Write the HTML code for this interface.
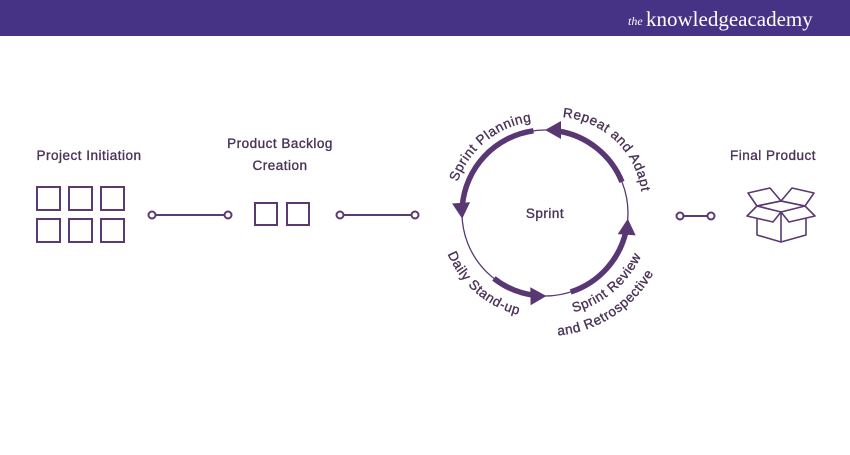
<!DOCTYPE html>
<html><head><style>
body{margin:0;width:850px;height:450px;background:#fff;overflow:hidden;font-family:"Liberation Sans",sans-serif}
</style></head><body>
<svg width="850" height="450" viewBox="0 0 850 450" xmlns="http://www.w3.org/2000/svg" font-family="Liberation Sans, sans-serif">
<rect x="0" y="0" width="850" height="36" fill="#463385"/>
<text x="628" y="25" fill="#fff" font-family="Liberation Serif, serif" font-size="12" font-style="italic">the</text>
<text x="646" y="26" fill="#fff" font-family="Liberation Serif, serif" font-size="21">knowledgeacademy</text>
<g fill="#4a3356" stroke="#4a3356" stroke-width="0.35" font-size="13.5" text-anchor="middle" letter-spacing="0.5">
<text x="89" y="160">Project Initiation</text>
<text x="280" y="148">Product Backlog</text>
<text x="280" y="170">Creation</text>
<text x="773" y="160">Final Product</text>
<text x="545" y="218">Sprint</text>
</g>
<g fill="none" stroke="#5a3a70" stroke-width="2">
<rect x="37" y="187" width="23" height="23"/><rect x="69" y="187" width="23" height="23"/><rect x="101" y="187" width="23" height="23"/>
<rect x="37" y="219" width="23" height="23"/><rect x="69" y="219" width="23" height="23"/><rect x="101" y="219" width="23" height="23"/>
<rect x="255" y="203" width="22" height="22"/><rect x="287" y="203" width="22" height="22"/>
<line x1="156" y1="215" x2="224" y2="215"/><circle cx="152" cy="215" r="3.5"/><circle cx="228" cy="215" r="3.5"/>
<line x1="344" y1="215" x2="411" y2="215"/><circle cx="340" cy="215" r="3.5"/><circle cx="415" cy="215" r="3.5"/>
<line x1="684" y1="216" x2="707" y2="216"/><circle cx="680" cy="216" r="3.5"/><circle cx="711" cy="216" r="3.5"/>
</g>
<g fill="none" stroke="#5a3a70" stroke-width="1.6" stroke-linejoin="round">
<polyline points="757,218 757,235 781,242 806,235 806,218"/>
<line x1="781" y1="242" x2="781" y2="212"/>
<polygon points="748,193 770,188 781,201 757,206"/>
<polygon points="814,193 792,188 781,201 805,206"/>
<polyline points="757,206 781,201 805,206"/>
<polygon points="757,206 747,216 773,222 781,212"/>
<polygon points="805,206 815,216 789,222 781,212"/>
</g>
<g id="cyc"></g>
<defs>
<path id="pPlan" d="M 453 225 A 92 92 0 0 1 575 126"/>
<path id="pRep" d="M 520 125 A 86 86 0 0 1 636 235"/>
<path id="pDaily" d="M 441 195 A 105 105 0 0 0 570 315"/>
<path id="pRev" d="M 525 313 A 103 103 0 0 0 650 200"/>
<path id="pRet" d="M 520 333 A 122 122 0 0 0 668 200"/>
</defs>
<g fill="#4a3356" stroke="#4a3356" stroke-width="0.35" font-size="13.5" letter-spacing="0.6" text-anchor="middle">
<text><textPath href="#pPlan" startOffset="50%">Sprint Planning</textPath></text>
<text><textPath href="#pRep" startOffset="50%">Repeat and Adapt</textPath></text>
<text><textPath href="#pDaily" startOffset="52%">Daily Stand-up</textPath></text>
<text><textPath href="#pRev" startOffset="48%">Sprint Review</textPath></text>
<text><textPath href="#pRet" startOffset="42%">and Retrospective</textPath></text>
</g>
</svg>
<script>
(function(){
var cx=545,cy=213,r=83,g=document.getElementById('cyc'),ns='http://www.w3.org/2000/svg',col='#583773';
function P(a){a=a*Math.PI/180;return [cx+r*Math.cos(a),cy+r*Math.sin(a)];}
function el(n,at){var e=document.createElementNS(ns,n);for(var k in at)e.setAttribute(k,at[k]);g.appendChild(e);}
el('circle',{cx:cx,cy:cy,r:r,fill:'none',stroke:col,'stroke-width':1.3});
function arc(a1,a2,tip){
 var s=P(a1),e=P(a2),sweep=a2>a1?1:0,large=Math.abs(a2-a1)>180?1:0;
 el('path',{d:'M'+s[0]+' '+s[1]+' A'+r+' '+r+' 0 '+large+' '+sweep+' '+e[0]+' '+e[1],fill:'none',stroke:col,'stroke-width':5.5});
 var t=P(tip),a=tip*Math.PI/180,d=sweep?1:-1;
 var tx=-Math.sin(a)*d,ty=Math.cos(a)*d,nx=Math.cos(a),ny=Math.sin(a);
 var bx=t[0]-tx*16,by=t[1]-ty*16;
 el('polygon',{points:t[0]+','+t[1]+' '+(bx+nx*9)+','+(by+ny*9)+' '+(bx-nx*9)+','+(by-ny*9),fill:col});
}
arc(262,185,176);
arc(128,96,89);
arc(72,12,4);
arc(-22,-80,-90);
})();
</script>
</body></html>
